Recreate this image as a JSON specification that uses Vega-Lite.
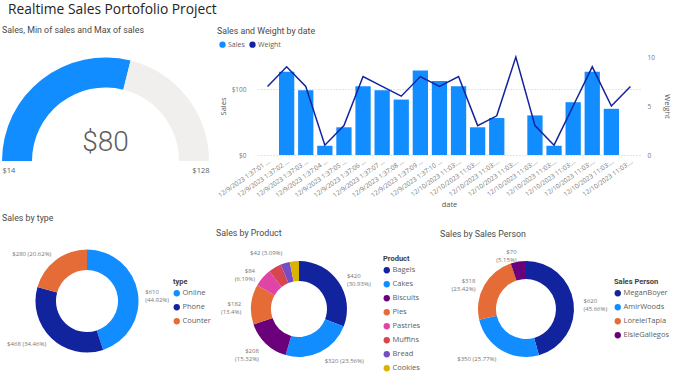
{
  "$schema": "https://vega.github.io/schema/vega-lite/v6.json",
  "background": "white",
  "padding": {"left": 2, "top": 3, "right": 6, "bottom": 0},
  "title": {"text": "Realtime Sales Portofolio Project", "anchor": "start", "font": "Open Sans", "fontSize": 13.8, "fontWeight": "normal", "color": "#252423", "offset": 9, "dx": 6},
  "config": {
    "view": {"stroke": null},
    "font": "Open Sans",
    "title": {"font": "Roboto", "fontSize": 8.8, "fontWeight": "normal", "color": "#4a4a4a", "anchor": "start"},
    "axis": {"labelFont": "Open Sans", "labelColor": "#777777", "labelFontSize": 6.5, "titleFont": "Open Sans", "titleColor": "#555555", "titleFontWeight": "normal", "titleFontSize": 7.5, "domain": false, "ticks": false},
    "legend": {"labelFont": "Open Sans", "labelFontSize": 7.5, "labelColor": "#605E5C", "titleFont": "Roboto", "titleFontSize": 7.5, "titleColor": "#404040", "titleFontWeight": "bold", "symbolType": "circle", "symbolSize": 40, "symbolStrokeWidth": 0, "rowPadding": 5, "padding": 0, "titlePadding": 4, "labelOffset": 2}
  },
  "datasets": {
    "daily": [
      {"date": "12/9/2023 1:37:01 PM", "Sales": null, "Weight": 7},
      {"date": "12/9/2023 1:37:02 PM", "Sales": 126, "Weight": 9},
      {"date": "12/9/2023 1:37:03 PM", "Sales": 98, "Weight": 7},
      {"date": "12/9/2023 1:37:04 PM", "Sales": 14, "Weight": 1},
      {"date": "12/9/2023 1:37:05 PM", "Sales": 42, "Weight": 3},
      {"date": "12/9/2023 1:37:06 PM", "Sales": 104, "Weight": 8},
      {"date": "12/9/2023 1:37:07 PM", "Sales": 98, "Weight": 7},
      {"date": "12/9/2023 1:37:08 PM", "Sales": 84, "Weight": 6},
      {"date": "12/9/2023 1:37:09 PM", "Sales": 128, "Weight": 8},
      {"date": "12/9/2023 1:37:10 PM", "Sales": 112, "Weight": 7},
      {"date": "12/10/2023 11:03:01 AM", "Sales": 104, "Weight": 8},
      {"date": "12/10/2023 11:03:02 AM", "Sales": 42, "Weight": 3},
      {"date": "12/10/2023 11:03:03 AM", "Sales": 56, "Weight": 4},
      {"date": "12/10/2023 11:03:04 AM", "Sales": null, "Weight": 10},
      {"date": "12/10/2023 11:03:05 AM", "Sales": 60, "Weight": 3},
      {"date": "12/10/2023 11:03:06 AM", "Sales": 14, "Weight": 1},
      {"date": "12/10/2023 11:03:07 AM", "Sales": 80, "Weight": 5},
      {"date": "12/10/2023 11:03:08 AM", "Sales": 126, "Weight": 9},
      {"date": "12/10/2023 11:03:09 AM", "Sales": 70, "Weight": 5},
      {"date": "12/10/2023 11:03:10 AM", "Sales": null, "Weight": 7}
    ],
    "types": [
      {"type": "Online", "Sales": 610},
      {"type": "Phone", "Sales": 468},
      {"type": "Counter", "Sales": 280}
    ],
    "products": [
      {"Product": "Bagels", "Sales": 420},
      {"Product": "Cakes", "Sales": 320},
      {"Product": "Biscuits", "Sales": 208},
      {"Product": "Pies", "Sales": 182},
      {"Product": "Pastries", "Sales": 84},
      {"Product": "Muffins", "Sales": 60},
      {"Product": "Bread", "Sales": 42},
      {"Product": "Cookies", "Sales": 42}
    ],
    "people": [
      {"Person": "MeganBoyer", "Sales": 620},
      {"Person": "AmirWoods", "Sales": 350},
      {"Person": "LoreleiTapia", "Sales": 318},
      {"Person": "ElsieGallegos", "Sales": 70}
    ]
  },
  "resolve": {"scale": {"color": "independent", "theta": "independent", "x": "independent", "y": "independent"}, "legend": {"color": "independent"}},
  "spacing": 5,
  "vconcat": [
    {
      "spacing": 7,
      "resolve": {"scale": {"color": "independent", "theta": "independent", "x": "independent", "y": "independent"}, "legend": {"color": "independent"}},
      "hconcat": [
        {
          "width": 207, "height": 104,
          "title": {"text": "Sales, Min of sales and Max of sales", "offset": 22},
          "data": {"name": "daily"},
          "transform": [{"aggregate": [{"op": "mean", "field": "Sales", "as": "Sales"}, {"op": "min", "field": "Sales", "as": "Min"}, {"op": "max", "field": "Sales", "as": "Max"}]}],
          "layer": [
            {
              "transform": [
                {"calculate": "datum.Sales - datum.Min", "as": "Filled"},
                {"calculate": "datum.Max - datum.Sales", "as": "Remaining"},
                {"fold": ["Filled", "Remaining"], "as": ["part", "amount"]}
              ],
              "mark": {"type": "arc", "innerRadius": 73.5, "outerRadius": 103.5},
              "encoding": {
                "theta": {"field": "amount", "type": "quantitative", "stack": true, "scale": {"range": [-1.5708, 1.5708]}},
                "order": {"field": "part", "type": "nominal"},
                "color": {"field": "part", "type": "nominal", "scale": {"domain": ["Filled", "Remaining"], "range": ["#118DFF", "#F0EFEE"]}, "legend": null},
                "y": {"datum": 0, "type": "quantitative", "scale": {"domain": [0, 1]}, "axis": null}
              }
            },
            {
              "mark": {"type": "text", "y": "height", "dy": -10, "baseline": "alphabetic", "font": "Roboto", "fontSize": 28, "fontWeight": 300, "color": "#605E5C"},
              "encoding": {"text": {"field": "Sales", "type": "quantitative", "format": "$.0f"}}
            },
            {
              "mark": {"type": "rule", "opacity": 0},
              "encoding": {
                "x": {"field": "Min", "type": "quantitative", "scale": {"zero": false, "nice": false}, "axis": {"values": [14, 128], "format": "$.0f", "labelFlush": true, "grid": false, "title": null, "labelPadding": 5, "labelFontSize": 7.5, "labelColor": "#605E5C"}},
                "x2": {"field": "Max"}
              }
            }
          ]
        },
        {
          "width": 382, "height": 98,
          "title": {"text": "Sales and Weight by date", "frame": "bounds", "offset": 5},
          "data": {"name": "daily"},
          "encoding": {
            "x": {"field": "date", "type": "ordinal", "sort": null, "scale": {"paddingInner": 0.2, "paddingOuter": 0.1}, "axis": {"labelAngle": -35, "labelLimit": 62, "labelPadding": 3, "title": "date", "titlePadding": 2}}
          },
          "layer": [
            {
              "mark": {"type": "point", "opacity": 0},
              "encoding": {}
            },
            {
              "mark": {"type": "bar"},
              "encoding": {
                "y": {"field": "Sales", "type": "quantitative", "scale": {"domain": [0, 148.5], "nice": false}, "axis": {"values": [0, 100], "format": "$.0f", "title": "Sales", "grid": true, "gridDash": [1, 2], "gridColor": "#c8c8c8", "labelPadding": 12, "titlePadding": 4}},
                "color": {"datum": "Sales", "type": "nominal", "scale": {"domain": ["Sales", "Weight"], "range": ["#118DFF", "#12239E"]}, "legend": {"orient": "none", "legendX": -39, "legendY": -16, "direction": "horizontal", "title": null, "columnPadding": 4, "labelFontSize": 7}}
              }
            },
            {
              "mark": {"type": "line", "strokeWidth": 1.5},
              "encoding": {
                "y": {"field": "Weight", "type": "quantitative", "scale": {"domain": [0, 10], "nice": false}, "axis": {"orient": "right", "values": [0, 5, 10], "title": "Weight", "grid": false, "labelPadding": 7, "titlePadding": 8}},
                "color": {"datum": "Weight", "type": "nominal"}
              }
            }
          ],
          "resolve": {"scale": {"y": "independent"}}
        }
      ]
    },
    {
      "spacing": 5,
      "resolve": {"scale": {"color": "independent", "theta": "independent", "x": "independent", "y": "independent"}, "legend": {"color": "independent"}},
      "hconcat": [
        {
          "width": 170, "height": 80,
          "title": {"text": "Sales by type", "offset": 27},
          "data": {"name": "types"},
          "transform": [
            {"joinaggregate": [{"op": "sum", "field": "Sales", "as": "total"}]},
            {"window": [{"op": "sum", "field": "Sales", "as": "cum"}], "sort": [{"field": "Sales", "order": "descending"}], "frame": [null, 0]},
            {"calculate": "datum.cum - datum.Sales / 2", "as": "mid"},
            {"calculate": "datum.mid / datum.total < 0.5 ? 'left' : 'right'", "as": "side"},
            {"calculate": "'$' + datum.Sales", "as": "l1"},
            {"calculate": "'(' + format(datum.Sales / datum.total * 100, '.2~f') + '%)'", "as": "l2"},
            {"calculate": "abs(sin(2 * PI * datum.mid / datum.total)) > 0.7 ? [datum.l1, datum.l2] : datum.l1 + ' ' + datum.l2", "as": "label"}
          ],
          "encoding": {
            "theta": {"field": "Sales", "type": "quantitative", "stack": true},
            "order": {"field": "Sales", "type": "quantitative", "sort": "descending"}
          },
          "layer": [
            {
              "mark": {"type": "arc", "innerRadius": 31, "outerRadius": 51.5},
              "encoding": {
                "color": {"field": "type", "type": "nominal", "scale": {"domain": ["Online", "Phone", "Counter"], "range": ["#118DFF", "#12239E", "#E66C37"]}, "legend": {"orient": "none", "legendX": 171, "legendY": 17, "title": "type"}}
              }
            },
            {
              "mark": {"type": "text", "radius": 59, "fontSize": 6, "color": "#777777", "baseline": "middle", "align": {"expr": "datum.side"}},
              "encoding": {
                "detail": {"field": "type", "type": "nominal"},
                "text": {"field": "label", "type": "nominal"}
              }
            }
          ]
        },
        {
          "width": 166, "height": 96,
          "title": {"text": "Sales by Product", "offset": 10},
          "data": {"name": "products"},
          "transform": [
            {"joinaggregate": [{"op": "sum", "field": "Sales", "as": "total"}]},
            {"window": [{"op": "sum", "field": "Sales", "as": "cum"}], "sort": [{"field": "Sales", "order": "descending"}], "frame": [null, 0]},
            {"calculate": "datum.cum - datum.Sales / 2", "as": "mid"},
            {"calculate": "datum.mid / datum.total < 0.5 ? 'left' : 'right'", "as": "side"},
            {"calculate": "'$' + datum.Sales", "as": "l1"},
            {"calculate": "'(' + format(datum.Sales / datum.total * 100, '.2~f') + '%)'", "as": "l2"},
            {"calculate": "abs(sin(2 * PI * datum.mid / datum.total)) > 0.65 ? [datum.l1, datum.l2] : datum.l1 + ' ' + datum.l2", "as": "label"}
          ],
          "encoding": {
            "theta": {"field": "Sales", "type": "quantitative", "stack": true},
            "order": {"field": "Sales", "type": "quantitative", "sort": "descending"}
          },
          "layer": [
            {
              "mark": {"type": "arc", "innerRadius": 28, "outerRadius": 48},
              "encoding": {
                "color": {"field": "Product", "type": "nominal", "scale": {"domain": ["Bagels", "Cakes", "Biscuits", "Pies", "Pastries", "Muffins", "Bread", "Cookies"], "range": ["#12239E", "#118DFF", "#6B007B", "#E66C37", "#E044A7", "#D64550", "#744EC2", "#D9B300"]}, "legend": {"orient": "none", "legendX": 167, "legendY": -6, "title": "Product"}}
              }
            },
            {
              "mark": {"type": "text", "radius": 58, "fontSize": 6, "color": "#777777", "baseline": "middle", "align": {"expr": "datum.side"}},
              "encoding": {
                "detail": {"field": "Product", "type": "nominal"},
                "text": {"field": "label", "type": "nominal"},
                "opacity": {"condition": {"test": "datum.Product == 'Muffins' || datum.Product == 'Cookies'", "value": 0}, "value": 1}
              }
            }
          ]
        },
        {
          "width": 200, "height": 96,
          "title": {"text": "Sales by Sales Person", "offset": 10, "dx": 14},
          "data": {"name": "people"},
          "transform": [
            {"joinaggregate": [{"op": "sum", "field": "Sales", "as": "total"}]},
            {"window": [{"op": "sum", "field": "Sales", "as": "cum"}], "sort": [{"field": "Sales", "order": "descending"}], "frame": [null, 0]},
            {"calculate": "datum.cum - datum.Sales / 2", "as": "mid"},
            {"calculate": "datum.mid / datum.total < 0.5 ? 'left' : 'right'", "as": "side"},
            {"calculate": "'$' + datum.Sales", "as": "l1"},
            {"calculate": "'(' + format(datum.Sales / datum.total * 100, '.2~f') + '%)'", "as": "l2"},
            {"calculate": "abs(sin(2 * PI * datum.mid / datum.total)) > 0.6 || datum.Sales < 100 ? [datum.l1, datum.l2] : datum.l1 + ' ' + datum.l2", "as": "label"}
          ],
          "encoding": {
            "theta": {"field": "Sales", "type": "quantitative", "stack": true},
            "order": {"field": "Sales", "type": "quantitative", "sort": "descending"}
          },
          "layer": [
            {
              "mark": {"type": "arc", "innerRadius": 30, "outerRadius": 48},
              "encoding": {
                "color": {"field": "Person", "type": "nominal", "scale": {"domain": ["MeganBoyer", "AmirWoods", "LoreleiTapia", "ElsieGallegos"], "range": ["#12239E", "#118DFF", "#E66C37", "#6B007B"]}, "legend": {"orient": "none", "legendX": 188, "legendY": 17, "title": "Sales Person"}}
              }
            },
            {
              "mark": {"type": "text", "radius": 58, "fontSize": 6, "color": "#777777", "baseline": "middle", "align": {"expr": "datum.side"}},
              "encoding": {
                "detail": {"field": "Person", "type": "nominal"},
                "text": {"field": "label", "type": "nominal"}
              }
            }
          ]
        }
      ]
    }
  ]
}
